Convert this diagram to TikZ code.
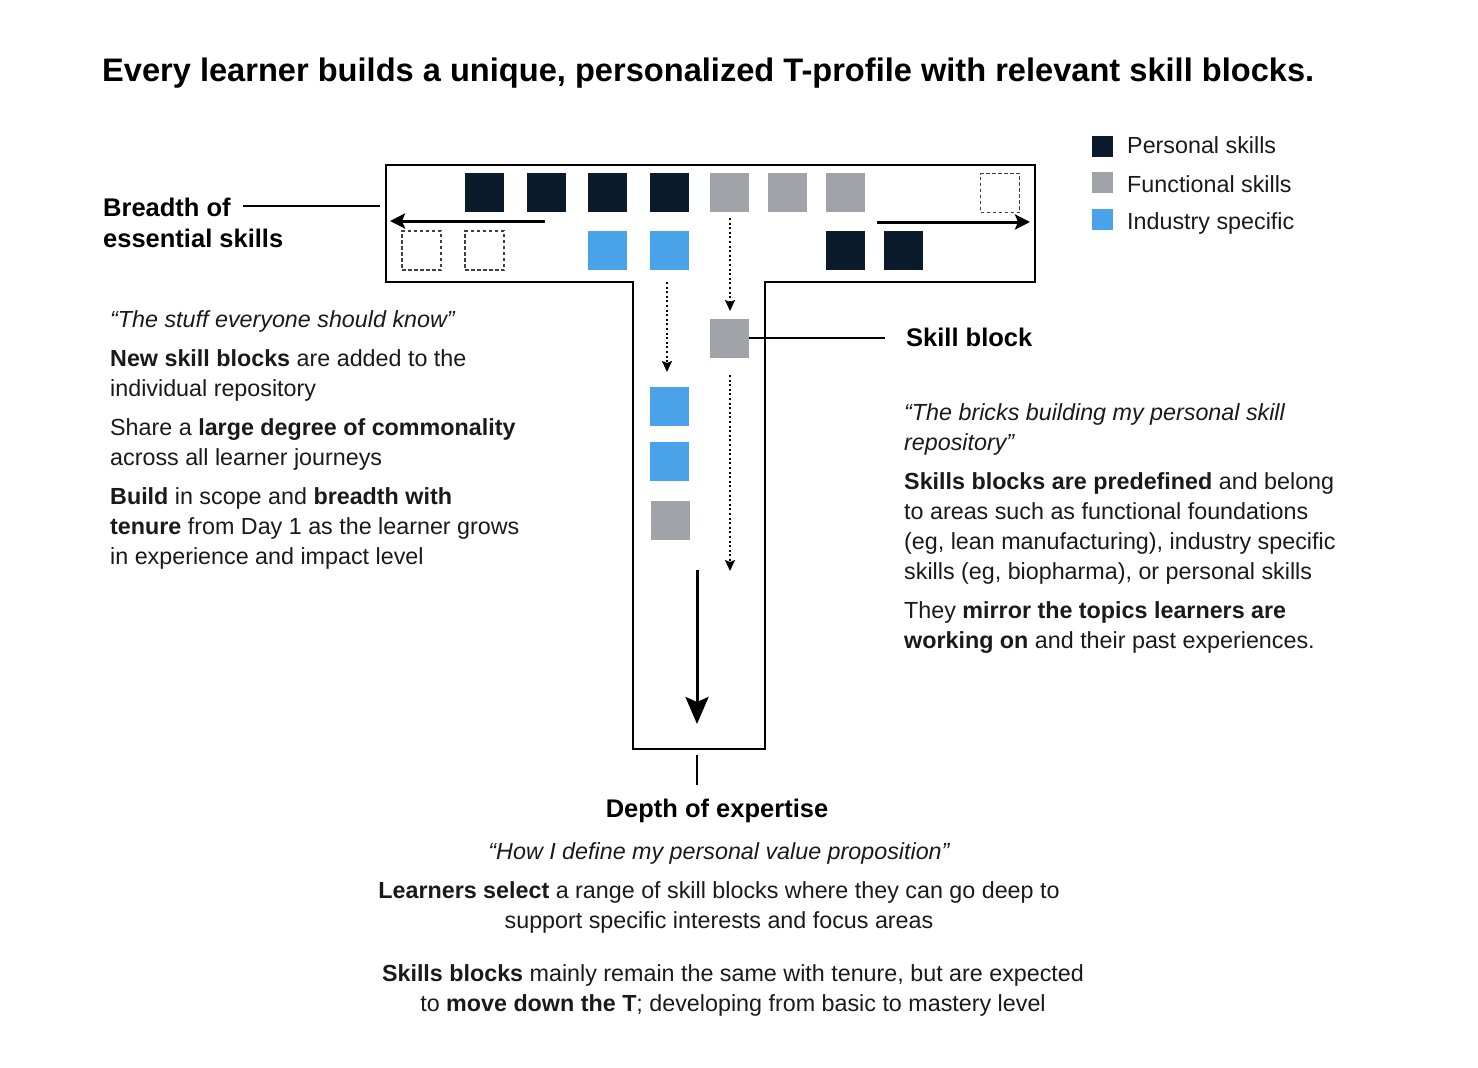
\documentclass[tikz,border=0pt]{standalone}
\usepackage{fontspec}
\setmainfont{Liberation Sans}
\usetikzlibrary{arrows.meta}
\definecolor{navy}{HTML}{0C1B2B}
\definecolor{fgray}{HTML}{A0A4A8}
\definecolor{iblue}{HTML}{4AA3E8}
\definecolor{txt}{HTML}{1A1A1A}
\begin{document}
\begin{tikzpicture}[x=1pt,y=-1pt,
  blk/.style={minimum width=39pt,minimum height=39pt,inner sep=0pt,outer sep=0pt},
  pers/.style={blk,fill=navy},
  func/.style={blk,fill=fgray},
  ind/.style={blk,fill=iblue},
  empty/.style={blk,draw=black!75,line width=1.1pt,dash pattern=on 3.5pt off 2.5pt},
  tline/.style={line width=1.8pt,black},
  solidarr/.style={line width=3pt,-{Stealth[length=15pt,width=15pt,inset=3pt]}},
  bigarr/.style={line width=3pt,-{Stealth[length=27pt,width=23pt,inset=5pt]}},
  dotarr/.style={line width=1.8pt,dash pattern=on 2pt off 2.6pt,-{Stealth[length=11pt,width=10pt,inset=2pt]}},
  leader/.style={line width=1.2pt,black},
  body/.style={anchor=base west,inner sep=0pt,text=txt,font=\fontsize{23.3}{28}\selectfont},
  bodyc/.style={anchor=base,inner sep=0pt,text=txt,font=\fontsize{23.3}{28}\selectfont},
  head/.style={anchor=base west,inner sep=0pt,text=black,font=\fontsize{25.5}{30}\selectfont\bfseries},
  legtxt/.style={anchor=base west,inner sep=0pt,text=txt,font=\fontsize{23.3}{28}\selectfont},
  legsq/.style={minimum width=21pt,minimum height=21pt,inner sep=0pt}
]
\useasboundingbox (0,0) rectangle (1478,1068);
\fill[white] (0,0) rectangle (1478,1068);

% title
\node[anchor=base west,inner sep=0pt,font=\fontsize{32.6}{38}\selectfont\bfseries] (title) at (102,81)
  {Every learner builds a unique, personalized T-profile with relevant skill blocks.};

% T outline
\draw[tline] (386,165) -- (1035,165) -- (1035,282) -- (765,282) -- (765,749)
  -- (633,749) -- (633,282) -- (386,282) -- cycle;

% top row
\node[pers] (p1) at (484.5,192.5) {};
\node[pers] (p2) at (546.5,192.5) {};
\node[pers] (p3) at (607.5,192.5) {};
\node[pers] (p4) at (669.5,192.5) {};
\node[func] (f1) at (729.5,192.5) {};
\node[func] (f2) at (787.5,192.5) {};
\node[func] (f3) at (845.5,192.5) {};
\node[empty] (e3) at (1000,193) {};
% second row
\node[empty] (e1) at (421.5,250.5) {};
\node[empty] (e2) at (484.5,250.5) {};
\node[ind] (i1) at (607.5,250.5) {};
\node[ind] (i2) at (669.5,250.5) {};
\node[pers] (p5) at (845.5,250.5) {};
\node[pers] (p6) at (903.5,250.5) {};

% stem blocks
\node[func] (sb) at (729.5,338) {};
\node[ind] (i3) at (669.5,406.5) {};
\node[ind] (i4) at (669.5,461.5) {};
\node[func] (f4) at (670.5,520.5) {};

% arrows in top bar
\coordinate (la1) at (545,221); \coordinate (la2) at (390,221);
\coordinate (ra1) at (877,222); \coordinate (ra2) at (1030,222);
\draw[solidarr] (la1) -- (la2);
\draw[solidarr] (ra1) -- (ra2);

% dotted arrows
\coordinate (d1a) at (667,282); \coordinate (d1b) at (667,372);
\coordinate (d2a) at (730,218); \coordinate (d2b) at (730,311);
\coordinate (d3a) at (730,375); \coordinate (d3b) at (730,571);
\draw[dotarr] (d1a) -- (d1b);
\draw[dotarr] (d2a) -- (d2b);
\draw[dotarr] (d3a) -- (d3b);

% big arrow
\coordinate (ba1) at (697,570); \coordinate (ba2) at (697,724);
\draw[bigarr] (ba1) -- (ba2);

% legend
\node[legsq,fill=navy] (lg1) at (1102.5,146) {};
\node[legsq,fill=fgray] (lg2) at (1102.5,182.5) {};
\node[legsq,fill=iblue] (lg3) at (1102.5,219) {};
\node[legtxt] (lt1) at (1127,153) {Personal skills};
\node[legtxt] (lt2) at (1127,192) {Functional skills};
\node[legtxt] (lt3) at (1127,229) {Industry specific};

% breadth label
\node[head] (br1) at (103,216) {Breadth of};
\node[head] (br2) at (103,247) {essential skills};
\coordinate (brl) at (380,206);
\draw[leader] ([xshift=12pt]brl -| br1.east) -- (brl);

% skill block label
\node[head] (sbl) at (906,346) {Skill block};
\draw[leader] (sb.east) -- ([xshift=-21pt]sb.east -| sbl.west);

% depth label
\node[anchor=base,inner sep=0pt,font=\fontsize{25.5}{30}\selectfont\bfseries] (depth) at (717,817) {Depth of expertise};
\coordinate (tb) at (697,755); \coordinate (dt) at (697,785);
\draw[leader] (tb) -- (dt);

% left text
\node[body] (l1) at (110,327) {\itshape “The stuff everyone should know”};
\node[body] (l2) at (110,366) {\textbf{New skill blocks} are added to the};
\node[body] (l3) at (110,396) {individual repository};
\node[body] (l4) at (110,435) {Share a \textbf{large degree of commonality}};
\node[body] (l5) at (110,465) {across all learner journeys};
\node[body] (l6) at (110,504) {\textbf{Build} in scope and \textbf{breadth with}};
\node[body] (l7) at (110,534) {\textbf{tenure} from Day 1 as the learner grows};
\node[body] (l8) at (110,564) {in experience and impact level};

% right text
\node[body] (r1) at (904,420) {\itshape “The bricks building my personal skill};
\node[body] (r2) at (904,450) {\itshape repository”};
\node[body] (r3) at (904,489) {\textbf{Skills blocks are predefined} and belong};
\node[body] (r4) at (904,519) {to areas such as functional foundations};
\node[body] (r5) at (904,549) {(eg, lean manufacturing), industry specific};
\node[body] (r6) at (904,579) {skills (eg, biopharma), or personal skills};
\node[body] (r7) at (904,618) {They \textbf{mirror the topics learners are}};
\node[body] (r8) at (904,648) {\textbf{working on} and their past experiences.};

% bottom text
\node[bodyc] (b1) at (719,859) {\itshape “How I define my personal value proposition”};
\node[bodyc] (b2) at (719,898) {\textbf{Learners select} a range of skill blocks where they can go deep to};
\node[bodyc] (b3) at (719,928) {support specific interests and focus areas};
\node[bodyc] (b4) at (733,981) {\textbf{Skills blocks} mainly remain the same with tenure, but are expected};
\node[bodyc] (b5) at (733,1011) {to \textbf{move down the T}; developing from basic to mastery level};
\end{tikzpicture}
\end{document}
